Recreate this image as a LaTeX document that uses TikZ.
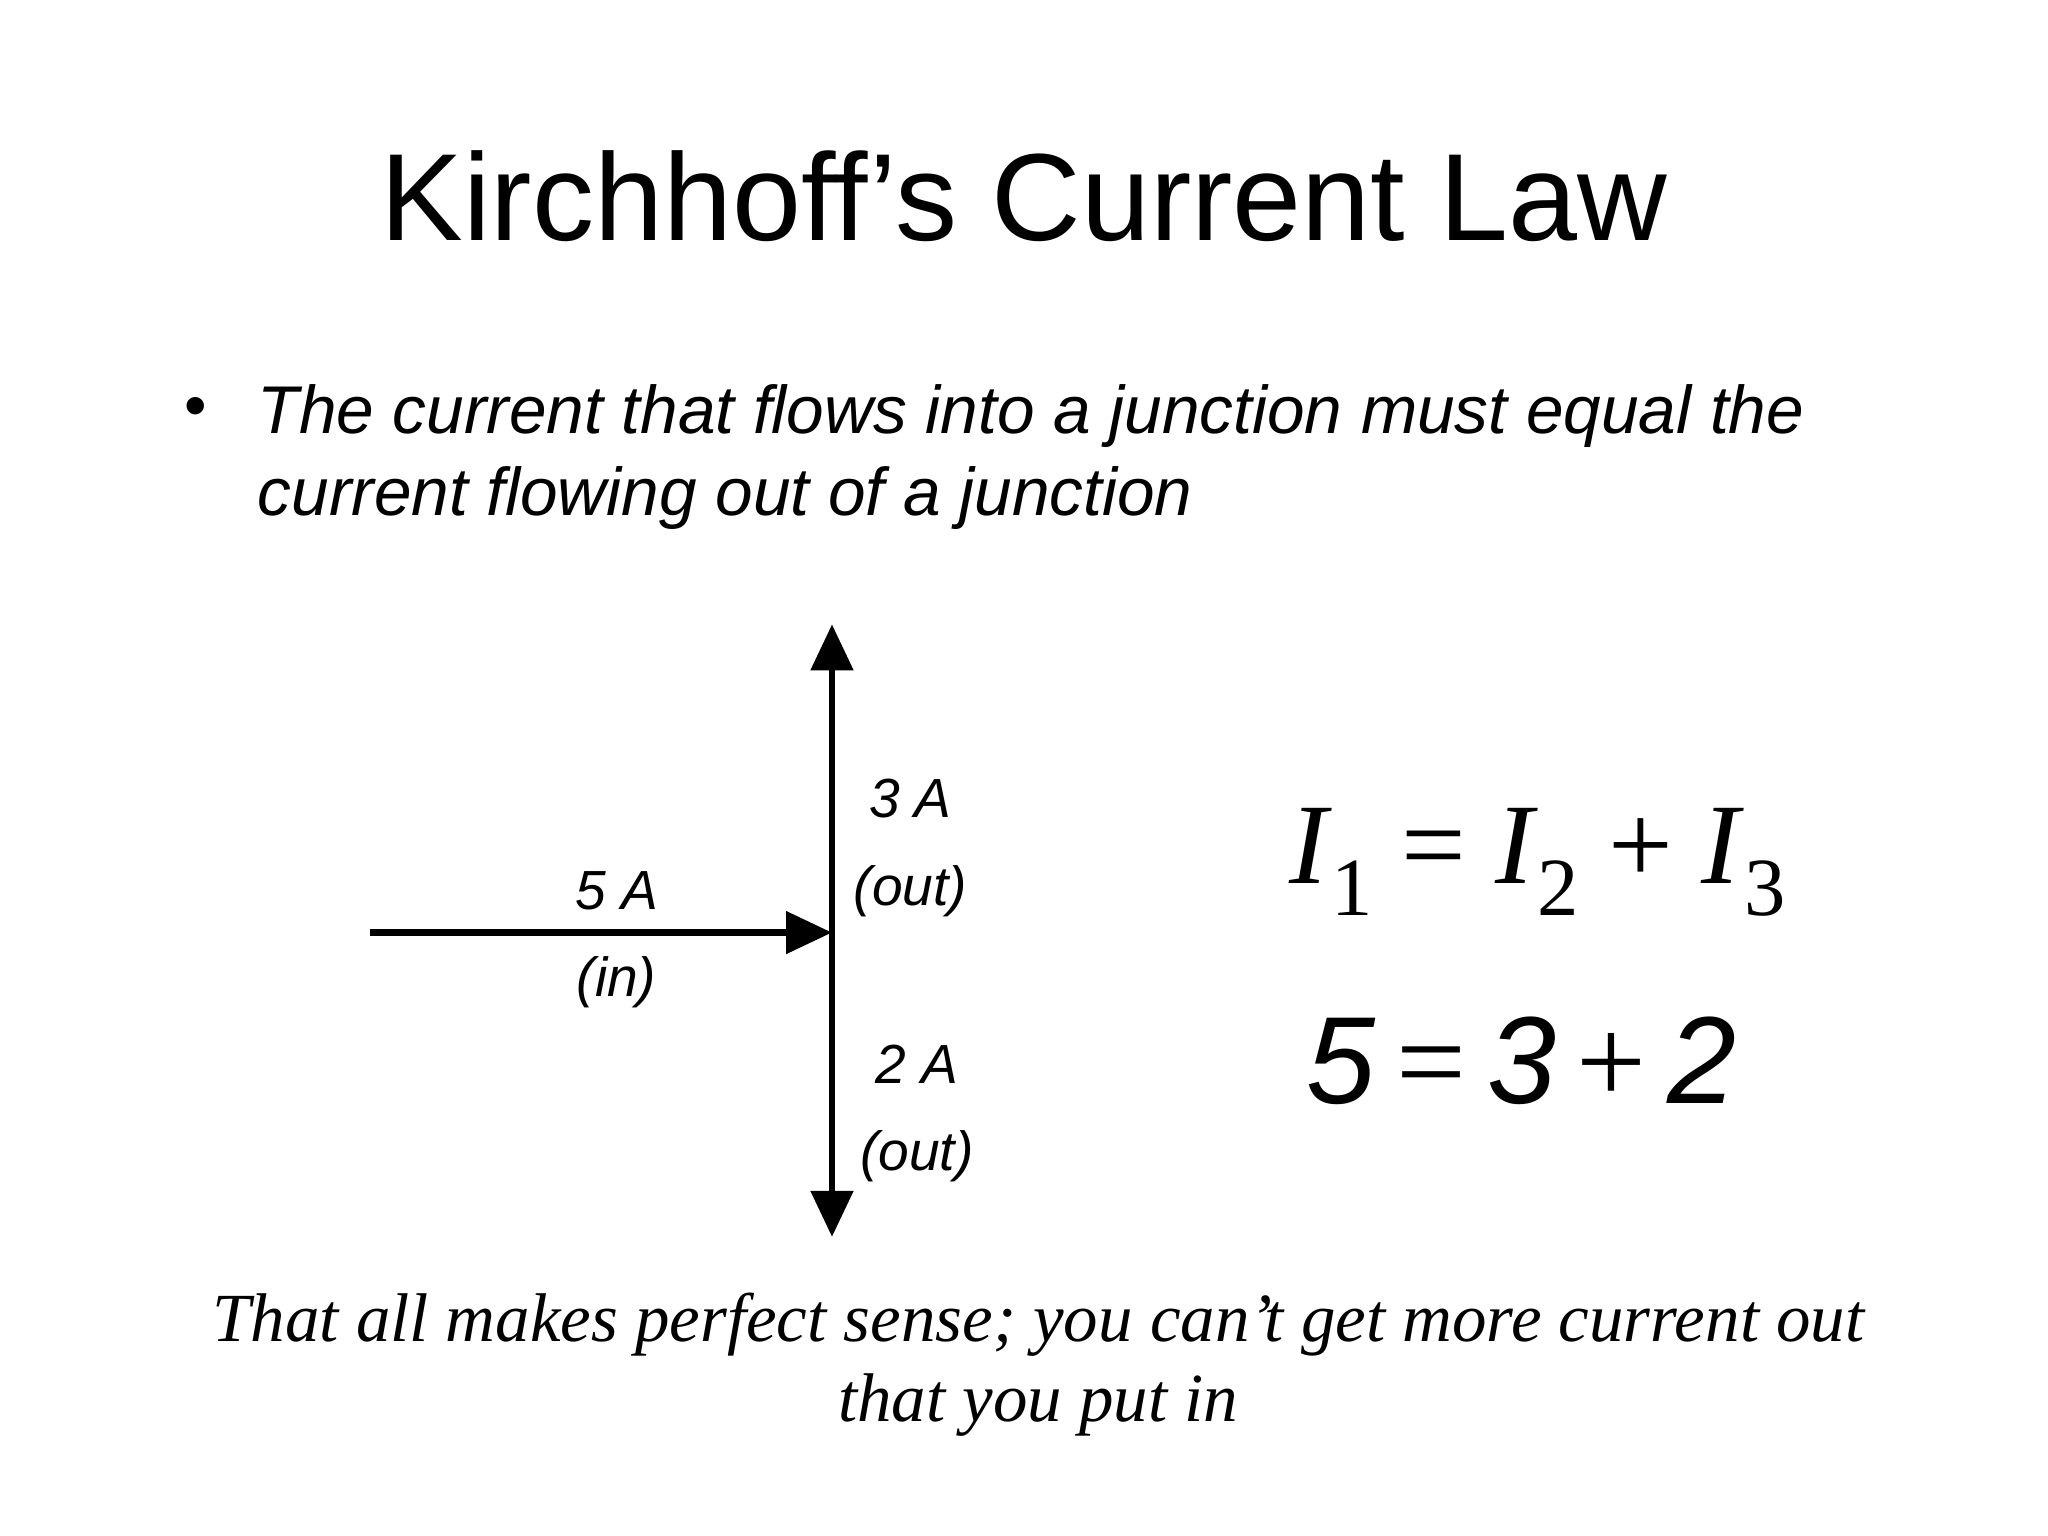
\documentclass[tikz,border=0pt]{standalone}
\usepackage{fontspec}
\setmainfont{Liberation Sans}
\newfontfamily\serifit{Liberation Serif}
\newfontfamily\handf{Liberation Serif}
\usetikzlibrary{arrows.meta}
\begin{document}
\begin{tikzpicture}[x=0.01cm,y=-0.01cm,
  wire/.style={line width=1.5pt,-{Triangle[length=10pt,width=9pt]}},
  lab/.style={font=\fontsize{12}{14}\selectfont\itshape}]
\useasboundingbox (0,0) rectangle (1568,1176);
\node (title) at (784,150) {\fontsize{27}{32}\selectfont Kirchhoff’s Current Law};
\node (bul) at (150,316) {\fontsize{14}{18}\selectfont •};
\node[anchor=west,align=left,font=\fontsize{14.7}{18}\selectfont\itshape] (txt) at (185,350) {The current that flows into a junction must equal the\\ current flowing out of a junction};
\coordinate (J) at (637,714);
\coordinate (L) at (283,714);
\coordinate (T) at (637,478);
\coordinate (B) at (637,947);
\draw[wire] (L) -- (J);
\draw[wire] (J) -- (T);
\draw[wire] (J) -- (B);
\node[lab] (a5) at (472,682) {5 A};
\node[lab] (a5i) at (472,752) {(in)};
\node[lab] (a3) at (697,611) {3 A};
\node[lab] (a3o) at (697,682) {(out)};
\node[lab] (a2) at (702,815) {2 A};
\node[lab] (a2o) at (702,885) {(out)};
\node (eq1) at (1177,660) {\fontsize{25}{30}\selectfont\serifit \textit{I}\raisebox{-7pt}{\fontsize{18}{20}\selectfont 1} = \textit{I}\raisebox{-7pt}{\fontsize{18}{20}\selectfont 2} + \textit{I}\raisebox{-7pt}{\fontsize{18}{20}\selectfont 3}};
\node (eq2) at (1165,812) {\fontsize{27}{32}\selectfont\itshape 5{\serifit\upshape\,=\,}3{\serifit\upshape\,+\,}2};
\node[align=center,font=\fontsize{15}{17.5}\selectfont\handf\itshape] (note) at (795,1045) {That all makes perfect sense; you can’t get more current out\\ that you put in};
\end{tikzpicture}
\end{document}
